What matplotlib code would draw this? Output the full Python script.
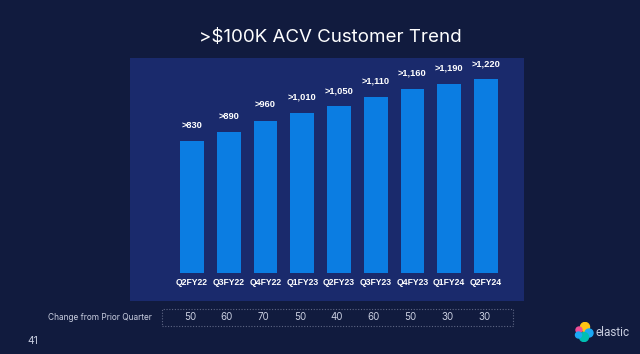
import matplotlib
matplotlib.use("Agg")
import matplotlib.pyplot as plt
import matplotlib.transforms as mtransforms
from matplotlib.patches import Rectangle, Circle

# Chart data
quarters = ["Q2FY22", "Q3FY22", "Q4FY22", "Q1FY23", "Q2FY23",
            "Q3FY23", "Q4FY23", "Q1FY24", "Q2FY24"]
customers = [830, 890, 960, 1010, 1050, 1110, 1160, 1190, 1220]
value_labels = [">830", ">890", ">960", ">1,010", ">1,050",
                ">1,110", ">1,160", ">1,190", ">1,220"]
qoq_change = [50, 60, 70, 50, 40, 60, 50, 30, 30]

# Colours
BG = "#111b3e"
PANEL = "#1a2a6c"
BAR = "#0b7de2"
TXT = "#ffffff"
GREY = "#c9cee0"

W, H = 640, 354
fig = plt.figure(figsize=(6.4, 3.54), dpi=100, facecolor=BG)

def px(x0, y0, x1, y1):
    # pixel box (top-left origin) -> figure fraction [l, b, w, h]
    return [x0 / W, 1 - y1 / H, (x1 - x0) / W, (y1 - y0) / H]

# Main panel axes
ax = fig.add_axes(px(130, 58, 524, 301))
ax.set_facecolor(PANEL)
for s in ax.spines.values():
    s.set_visible(False)
ax.set_xticks([])
ax.set_yticks([])

xs = list(range(len(quarters)))
ax.bar(xs, customers, width=0.65, color=BAR, zorder=2)
ax.set_xlim(-1.687, 9.034)
ax.set_ylim(-176, 1354)

for x, v, lab in zip(xs, customers, value_labels):
    ax.annotate(lab, (x, v), xytext=(0, 8), textcoords="offset points",
                ha="center", va="bottom", color=TXT, fontsize=6.7,
                fontweight="bold", family="Liberation Sans")
for x, q in zip(xs, quarters):
    ax.text(x, -57, q, ha="center", va="center", color=TXT, fontsize=6.2,
            fontweight="bold", family="Liberation Sans")

# Title
fig.text(330 / W, 1 - 37 / H, ">$100K ACV Customer Trend", ha="center",
         va="center", color=TXT, fontsize=13.5, family="Inter")

# Change from prior quarter row
row_y = 1 - 317 / H
fig.text(48 / W, row_y, "Change from Prior Quarter", ha="left", va="center",
         color=GREY, fontsize=6, family="Inter")
trans = mtransforms.blended_transform_factory(ax.transData, fig.transFigure)
for x, c in zip(xs, qoq_change):
    fig.text(x - 0.05, row_y, str(c), transform=trans, ha="center",
             va="center", color=GREY, fontsize=7, family="Inter")
fig.patches.append(Rectangle((162 / W, 1 - 326 / H), (513 - 162) / W, 17 / H,
                             transform=fig.transFigure, fill=False,
                             edgecolor="#5e6684", linewidth=0.8,
                             linestyle=(0, (1, 1.5))))

# Page number
fig.text(33 / W, 1 - 341 / H, "41", ha="center", va="center", color=GREY,
         fontsize=7.5, family="Inter")

# Elastic logo
lax = fig.add_axes(px(574, 322, 594, 342))
lax.set_xlim(0, 20)
lax.set_ylim(0, 20)
lax.set_aspect("equal")
lax.axis("off")
for (cx, cy, r, col) in [(11, 15, 4.5, "#fec514"), (5, 12, 3, "#f04e98"),
                         (15, 9, 4, "#1ba9f5"), (10, 5, 4.5, "#00bfb3"),
                         (4.5, 7, 3, "#1ba9f5")]:
    lax.add_patch(Circle((cx, cy), r, color=col))
fig.text(596 / W, 1 - 332 / H, "elastic", ha="left", va="center",
         color=GREY, fontsize=8.5, family="Roboto")

fig.savefig("out.png", dpi=100, facecolor=BG)
